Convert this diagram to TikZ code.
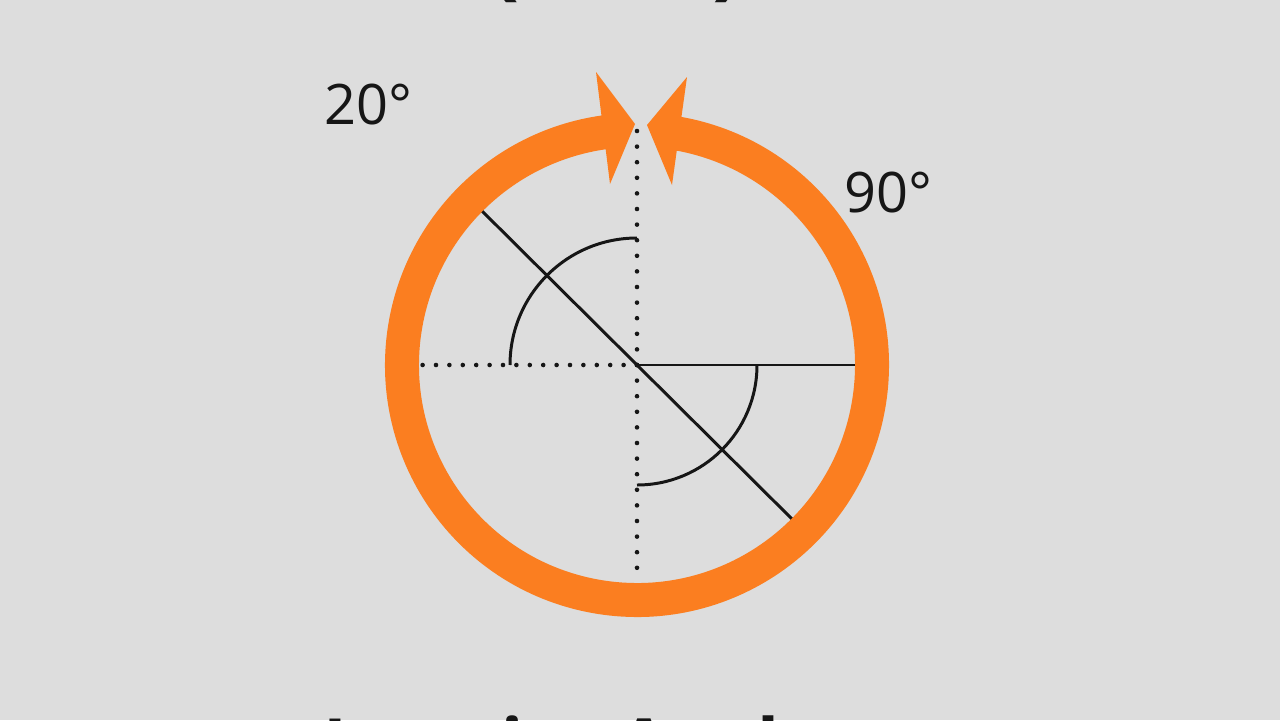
\documentclass[tikz,border=0pt]{standalone}
\usepackage{fontspec}
\setmainfont{Open Sans}
\usepackage{tikz}
\definecolor{bggray}{RGB}{221,221,221}
\definecolor{ringorange}{RGB}{251,126,32}
\definecolor{ink}{RGB}{22,22,22}

\begin{document}
\begin{tikzpicture}[x=0.1mm,y=0.1mm,
    ring/.style={draw=ringorange,line width=3.4mm},
    head/.style={fill=ringorange},
    ray/.style={draw=ink,line width=0.85pt},
    dots/.style={draw=ink,line width=1.3pt,line cap=round,dash pattern=on 0pt off 1.56mm},
    deg/.style={inner sep=0pt,text=ink,font=\fontsize{15.9}{18}\selectfont},
    title/.style={inner sep=0pt,text=ink,font=\fontsize{20.5}{24}\selectfont\bfseries}]
      \useasboundingbox (0,0) rectangle (1280,720);
      \clip (0,0) rectangle (1280,720);
      \fill[bggray] (0,0) rectangle (1280,720);
      \coordinate (C) at (637,355);
      %% Titles, cut by the frame
      \node[title,anchor=base west,font=\fontsize{25.6}{30}\selectfont\bfseries] (top) at (489,731.5) {(360°)};
      \node[title,anchor=base west] (bottom) at (323,-50) {Interior Angle};
      %% Dotted axes
      \draw[dots] (C) -- (637,597);
      \draw[dots] (C) -- (637,142);
      \draw[dots,dash pattern=on 0pt off 1.34mm] (C) -- (422,355);
      %% Rays and angle arcs
      \draw[ray] (C) -- (855,355);
      \draw[ray] (478,513) -- (793,200);
      \draw[ray] (637,482) arc[start angle=90,end angle=180,radius=127];
      \draw[ray] (757,355) arc[start angle=0,end angle=-90,radius=120];
      %% Orange ring with two heads
      \draw[ring] (C) ++(81:235) arc[start angle=81,end angle=-263,radius=235];
      \fill[head] (596,648) -- (635,596) -- (610,536) -- cycle;
      \fill[head] (687,643) -- (647,595) -- (672,535) -- cycle;
      %% Labels
      \node[deg] (a) at (368,615) {20°};
      \node[deg] (b) at (888,527) {90°};
    \end{tikzpicture}
\end{document}
